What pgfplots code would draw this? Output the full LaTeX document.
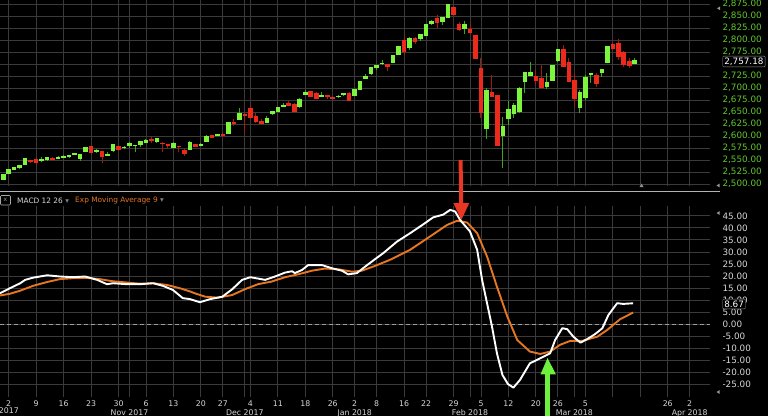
\documentclass[border=0pt]{standalone}
\usepackage{pgfplots}
\pgfplotsset{compat=1.18}
\usepackage{pgfplotstable}
\usepackage{fontspec}
\setmainfont{DejaVu Sans}
\definecolor{gridc}{RGB}{58,58,58}
\definecolor{upbody}{RGB}{125,245,60}
\definecolor{upwick}{RGB}{60,165,30}
\definecolor{dnbody}{RGB}{236,42,28}
\definecolor{dnwick}{RGB}{160,28,15}
\definecolor{pricelab}{RGB}{95,200,45}
\definecolor{sig}{RGB}{230,118,32}
\definecolor{labc}{RGB}{215,215,215}
\definecolor{arrred}{RGB}{232,55,35}
\definecolor{arrgreen}{RGB}{110,240,60}

% green candles: index, open, high, low, close
\pgfplotstableread{
i o h l c
-1 2509.0 2519.4 2508.0 2519.4
0 2521.2 2529.2 2520.4 2529.1
1 2530.3 2535.1 2528.9 2534.6
2 2533.5 2540.5 2531.8 2537.7
3 2540.9 2552.5 2540.0 2552.1
6 2550.0 2555.2 2544.9 2550.6
7 2550.6 2555.2 2548.0 2555.2
9 2555.7 2557.7 2552.1 2553.2
10 2555.6 2559.5 2553.9 2557.6
11 2557.2 2559.7 2554.7 2559.4
12 2562.9 2564.1 2559.7 2561.3
13 2553.4 2562.4 2547.9 2562.1
14 2567.6 2575.4 2567.6 2575.2
16 2568.7 2572.2 2565.6 2569.1
18 2560.1 2567.1 2559.8 2560.4
19 2570.3 2583.0 2565.9 2581.1
21 2576.0 2578.3 2572.2 2575.3
22 2583.2 2588.4 2574.9 2579.4
23 2579.5 2581.1 2566.2 2579.9
24 2581.9 2588.4 2576.8 2587.8
25 2587.5 2593.4 2585.7 2591.1
27 2588.7 2595.5 2585.0 2594.4
30 2576.5 2587.7 2574.5 2584.8
33 2573.0 2590.1 2573.0 2585.6
35 2579.5 2584.6 2578.2 2582.1
36 2589.2 2601.2 2589.2 2599.0
38 2600.4 2604.2 2600.4 2602.4
40 2605.9 2627.7 2605.4 2627.0
42 2633.9 2657.7 2633.9 2647.6
47 2628.4 2641.0 2626.5 2637.0
48 2646.2 2651.7 2644.1 2651.5
49 2652.2 2660.3 2651.5 2660.0
50 2661.7 2669.7 2659.8 2664.1
53 2660.6 2679.6 2659.1 2675.8
54 2685.9 2695.0 2685.9 2690.2
57 2683.0 2692.6 2682.4 2684.6
60 2682.1 2685.6 2678.9 2682.6
61 2686.1 2687.7 2682.7 2687.5
63 2683.7 2695.9 2682.4 2695.8
64 2697.9 2714.4 2697.8 2713.1
65 2719.3 2729.3 2719.1 2724.0
66 2731.3 2743.5 2727.9 2743.2
67 2742.7 2748.5 2737.6 2747.7
68 2751.2 2759.1 2747.9 2751.3
70 2753.0 2767.6 2752.8 2767.6
71 2770.2 2787.9 2769.6 2786.2
73 2785.0 2807.0 2778.4 2802.6
75 2802.6 2810.3 2798.1 2810.3
76 2809.2 2833.0 2808.1 2833.0
77 2835.1 2842.2 2830.6 2839.1
79 2846.2 2848.6 2830.9 2839.3
80 2847.5 2872.9 2846.2 2872.9
83 2832.4 2839.3 2813.0 2823.8
87 2614.8 2701.0 2593.1 2695.1
90 2601.8 2638.7 2532.7 2619.6
91 2636.8 2672.6 2622.5 2656.0
92 2646.3 2668.8 2637.1 2662.9
93 2651.2 2702.1 2648.9 2698.6
94 2713.5 2731.5 2689.8 2731.2
95 2727.1 2754.4 2725.1 2732.2
98 2710.4 2731.3 2697.8 2704.0
99 2715.8 2747.8 2713.7 2747.3
100 2757.8 2780.6 2753.8 2779.6
104 2658.9 2696.3 2647.3 2691.3
105 2681.1 2728.1 2675.8 2720.9
106 2730.2 2732.1 2711.3 2728.1
108 2732.8 2740.5 2722.7 2739.0
109 2752.9 2786.6 2751.5 2786.6
114 2750.6 2761.9 2750.0 2757.2
}\up

% red candles
\pgfplotstableread{
i o h l c
4 2547.4 2549.4 2543.8 2549.3
5 2551.4 2551.8 2541.6 2544.7
8 2552.9 2555.3 2548.3 2550.9
15 2578.1 2578.3 2564.3 2565.0
17 2566.5 2567.4 2544.0 2557.2
20 2577.8 2580.0 2568.3 2572.8
26 2592.1 2597.0 2584.4 2590.6
28 2584.0 2586.5 2566.3 2584.6
29 2580.2 2583.8 2575.6 2582.3
31 2577.8 2579.7 2566.6 2578.9
32 2569.5 2572.8 2557.5 2564.6
34 2582.9 2584.0 2577.6 2578.9
37 2600.3 2600.9 2595.2 2597.1
39 2602.7 2606.4 2598.9 2601.4
41 2627.8 2634.9 2620.3 2626.1
43 2645.1 2650.6 2605.5 2642.2
44 2657.2 2665.2 2639.0 2639.4
45 2639.8 2648.7 2627.7 2629.6
46 2626.2 2634.4 2624.8 2629.3
51 2667.6 2671.9 2662.9 2662.9
52 2665.9 2668.1 2652.0 2652.0
55 2692.7 2694.4 2680.7 2681.5
56 2688.2 2691.0 2676.1 2679.3
58 2684.2 2685.4 2678.1 2683.3
59 2679.1 2682.7 2678.0 2680.5
62 2689.2 2692.1 2673.6 2673.6
69 2745.6 2750.8 2736.1 2748.2
72 2799.0 2807.5 2768.6 2776.4
74 2802.4 2805.8 2792.6 2798.0
78 2845.4 2853.0 2824.8 2837.5
81 2867.2 2870.6 2851.5 2853.5
82 2832.7 2837.8 2818.3 2822.4
84 2816.5 2836.0 2812.7 2822.0
85 2808.9 2808.9 2760.0 2762.1
86 2741.1 2763.4 2638.2 2648.9
88 2691.0 2727.7 2681.3 2681.7
89 2685.0 2685.3 2580.6 2581.0
96 2723.0 2737.6 2706.8 2716.3
97 2720.5 2747.8 2701.3 2701.3
101 2780.5 2789.2 2744.2 2744.3
102 2753.8 2761.5 2713.5 2713.8
103 2715.2 2730.9 2659.7 2677.7
107 2710.2 2730.6 2701.7 2726.8
110 2790.5 2797.0 2779.3 2783.0
111 2792.3 2801.9 2758.7 2765.3
112 2774.1 2777.1 2744.4 2749.5
113 2754.3 2763.0 2741.5 2747.3
}\down

% MACD 12 26
\pgfplotstableread{
i v
-1.6 12.8
0.2 14.9
2.1 17.0
3.0 18.4
4.4 19.3
7.0 20.3
9.3 19.8
11.7 19.5
13.9 19.8
16.1 18.4
17.9 16.6
19.0 17.0
21.5 16.6
23.9 16.6
26.3 17.0
28.1 15.9
29.9 14.2
31.7 10.8
33.0 10.4
34.8 9.1
36.7 10.4
38.9 11.4
40.7 14.5
42.5 18.4
44.0 19.5
46.7 18.4
48.5 19.8
50.3 21.4
51.6 22.0
52.1 21.2
53.4 22.5
54.5 24.5
57.1 24.5
58.9 23.2
60.7 22.2
61.8 20.7
63.4 21.2
64.9 23.9
66.7 27.0
68.2 29.5
70.7 34.3
73.1 37.8
75.5 41.5
77.3 44.4
79.1 45.5
80.4 47.5
81.3 46.8
82.2 43.3
84.0 38.5
85.3 30.9
86.2 18.4
87.1 8.7
88.0 -1.0
88.9 -12.1
89.9 -21.1
90.9 -24.9
91.9 -26.4
93.1 -23.2
94.9 -16.3
96.8 -14.2
98.6 -12.1
99.5 -6.6
100.8 -1.7
101.7 -2.1
102.8 -5.2
104.1 -7.7
105.3 -6.3
106.8 -4.1
108.1 -1.7
109.2 3.8
110.8 8.7
111.9 8.4
113.7 8.67
}\macd

% Exp Moving Average 9
\pgfplotstableread{
i v
-1.6 11.9
0.2 12.6
2.1 13.9
4.4 15.9
7.0 17.5
9.3 18.7
11.7 19.1
14.3 19.2
16.6 18.7
19.0 17.8
21.5 17.3
23.9 16.8
26.3 17.0
28.8 16.3
31.2 14.9
33.0 13.6
33.9 12.8
35.8 11.4
38.1 11.0
40.7 12.1
43.0 14.5
45.4 16.6
47.9 17.7
50.3 19.5
52.7 20.7
55.2 22.2
57.6 23.1
60.0 22.8
62.5 21.8
64.3 22.2
66.7 24.2
69.4 26.7
73.1 30.9
76.7 36.4
79.8 41.2
81.7 43.0
83.5 42.2
85.3 37.8
87.1 28.1
88.9 15.6
90.8 3.1
92.6 -6.6
94.9 -11.4
96.8 -12.4
98.6 -11.4
100.4 -8.6
102.2 -7.0
104.6 -6.9
107.2 -5.2
109.0 -2.4
111.3 2.0
113.7 4.8
}\sigline

\newcommand\fa{\fontsize{7.8}{9}\selectfont}
\newcommand\fb{\fontsize{8.8}{10}\selectfont}

\pgfplotsset{
  panel/.style={
    scale only axis, width=710pt,
    xmin=-1.585, xmax=127.7,
    axis line style={draw=none}, tick style={draw=none},
    grid=major, grid style={gridc, line width=0.9pt},
    xtick={0,5,10,15,20,25,30,35,39,44,49,54,59,63,67,72,76,81,86,91,96,100,105,110,115,120,124},
    extra x ticks={22,43,63,84,103,124},
    yticklabel pos=right,
  },
  wick/.style={quiver={u=0, v=\thisrow{h}-\thisrow{l}, every arrow/.append style={-}}, line width=1pt, mark=none},
  body/.style={quiver={u=0, v={abs(\thisrow{c}-\thisrow{o})+2.4}, every arrow/.append style={-}}, line width=4.6pt, mark=none},
}

\begin{document}
\begin{tikzpicture}[x=1pt,y=1pt]
\fill[black] (0,0) rectangle (768,-416);
\useasboundingbox (0,0) rectangle (768,-416);
\coordinate (toppanel) at (0pt,0pt);
\coordinate (botpanel) at (0pt,-206pt);

% price panel
\begin{axis}[panel,
  at={(toppanel)}, anchor=north west, height=186pt,
  ymin=2495.8, ymax=2883.3,
  xticklabel={},
  extra x tick style={grid=major, xticklabel={}},
  ytick={2500,2525,2550,2575,2600,2625,2650,2675,2700,2725,2750,2775,2800,2825,2850,2875},
  yticklabels={2{,}500.00,2{,}525.00,2{,}550.00,2{,}575.00,2{,}600.00,2{,}625.00,2{,}650.00,2{,}675.00,2{,}700.00,2{,}725.00,,2{,}775.00,2{,}800.00,2{,}825.00,2{,}850.00,2{,}875.00},
  yticklabel style={anchor=west, font=\fb, text=pricelab, xshift=9pt},
]
\addplot[upwick, wick] table[x=i, y=l]{\up};
\addplot[dnwick, wick] table[x=i, y=l]{\down};
\addplot[upbody, body] table[x=i, y expr={min(\thisrow{o},\thisrow{c})-1.2}]{\up};
\addplot[dnbody, body] table[x=i, y expr={min(\thisrow{o},\thisrow{c})-1.2}]{\down};
\end{axis}

% MACD panel
\begin{axis}[panel,
  at={(botpanel)}, anchor=north west, height=191pt,
  ymin=-30.3, ymax=49.1,
  xticklabels={2,9,16,23,30,6,13,20,27,4,11,18,26,2,8,16,22,29,5,12,20,26,5,,,26,2},
  xticklabel style={font=\fa, text=labc},
  extra x tick labels={Nov 2017,Dec 2017,Jan 2018,Feb 2018,Mar 2018,Apr 2018},
  extra x tick style={grid=major, xticklabel style={yshift=-9pt, font=\fa, text=labc}},
  ytick={-25,-20,-15,-10,-5,0,5,10,15,20,25,30,35,40,45},
  yticklabels={-25.00,-20.00,-15.00,-10.00,-5.00,0.00,5.00,10.00,15.00,20.00,25.00,30.00,35.00,40.00,45.00},
  yticklabel style={anchor=west, font=\fb, text=labc, xshift=9pt},
]
\draw[gray!75, line width=0.9pt, dash pattern=on 4pt off 3pt] (axis cs:-1.585,0) -- (axis cs:127.7,0);
\addplot[sig, line width=1.9pt, line join=round] table[x=i, y=v]{\sigline};
\addplot[white, line width=1.9pt, line join=round] table[x=i, y=v]{\macd};
\node[text=labc, font=\fontsize{6.3}{7}\selectfont] at (axis cs:114,-30.3) [yshift=-9pt] {3/16/18};
\end{axis}

% left month label (overlapped)
\node[anchor=east, text=labc, font=\fa, inner sep=0pt] at (19,-410.7) {Oct 2017};

% separator and legend
\draw[gray!60, line width=0.8pt] (0,-191) -- (720,-191);
\draw[gray!70, line width=0.6pt, rounded corners=1pt] (0.5,-195.5) rectangle (10.5,-205);
\node[text=gray!80, font=\fontsize{6}{6}\selectfont, inner sep=0pt] at (5.5,-200.3) {x};
\node[anchor=west, text=labc, font=\fontsize{7.4}{8}\selectfont, inner sep=0pt] at (17,-200.5) {MACD 12 26 \textcolor{gray}{▾}};
\node[anchor=west, text=sig, font=\fontsize{7.4}{8}\selectfont, inner sep=0pt] at (75,-200.5) {Exp Moving Average 9 \textcolor{gray}{▾}};

% last value boxes
\node[draw=gray!85, fill=black, text=white, rounded corners=1pt, inner sep=1.6pt, anchor=west, font=\fb] at (722.5,-61.5) {2,757.18};
\node[draw=gray!85, fill=black, text=white, rounded corners=1pt, inner sep=1.6pt, anchor=west, font=\fb] at (722.5,-304) {8.67};

% scale handles
\fill[gray!80] (717,-8.3) -- (720,-6.5) -- (720,-10.1) -- cycle;
\fill[gray!80] (716.5,-185.5) -- (719.5,-183.7) -- (719.5,-187.3) -- cycle;
\fill[gray!80] (716.5,-213) -- (719.5,-211.2) -- (719.5,-214.8) -- cycle;
\fill[gray!80] (716.5,-392) -- (719.5,-390.2) -- (719.5,-393.8) -- cycle;
\fill[gray!90] (641.5,-183.5) -- (639.5,-187) -- (643.5,-187) -- cycle;

% annotation arrows
\fill[arrred] (458.6,-160) -- (462.6,-160) -- (463.2,-204) -- (459.2,-204) -- cycle;
\fill[arrred] (453.3,-203) -- (469.3,-203) -- (461.3,-220) -- cycle;
\fill[arrgreen] (545.3,-416) rectangle (549.7,-373);
\fill[arrgreen] (540.5,-374.3) -- (555.9,-374.3) -- (547.5,-358) -- cycle;
\end{tikzpicture}
\end{document}
